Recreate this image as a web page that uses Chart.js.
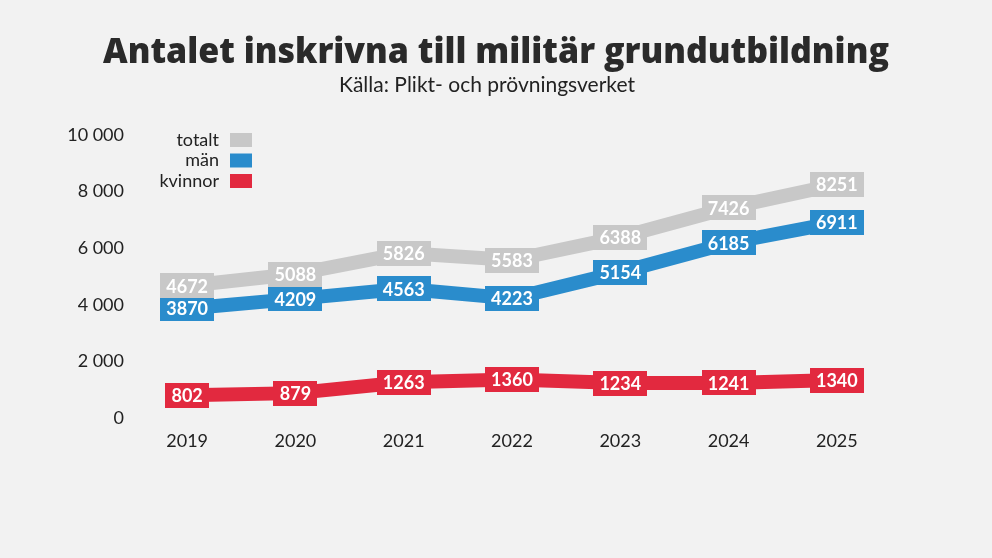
<!DOCTYPE html>
<html>
<head>
<meta charset="utf-8">
<style>
  html, body { margin: 0; padding: 0; background: #f2f2f2; }
  #wrap { width: 992px; height: 558px; }
</style>
<script src="https://cdn.jsdelivr.net/npm/chart.js@4"></script>
</head>
<body>
<div id="wrap"><canvas id="chart" width="992" height="558"></canvas></div>
<script>
// data
const years = ["2019", "2020", "2021", "2022", "2023", "2024", "2025"];
const totalt = [4672, 5088, 5826, 5583, 6388, 7426, 8251];
const man = [3870, 4209, 4563, 4223, 5154, 6185, 6911];
const kvinnor = [802, 879, 1263, 1360, 1234, 1241, 1340];
const seriesNames = ["totalt", "män", "kvinnor"];
const seriesColors = ["#c8c8c8", "#2a8ccc", "#e2293f"];

const titleText = "Antalet inskrivna till militär grundutbildning";
const subtitleText = "Källa: Plikt- och prövningsverket";

const textColor = "#222222";
const bodyFont = "Lato, 'Open Sans', sans-serif";

// title and source line, centred on the page
const headline = {
    id: "headline",
    afterDraw(chart) {
        const ctx = chart.ctx;
        ctx.save();
        ctx.textAlign = "center";
        ctx.textBaseline = "alphabetic";
        ctx.fillStyle = "#2a2a2a";
        ctx.font = "800 36px 'Open Sans', Roboto, sans-serif";
        ctx.fillText(titleText, 496, 63, 786);
        ctx.fillStyle = textColor;
        ctx.font = "21px " + bodyFont;
        ctx.fillText(subtitleText, 487, 92);
        ctx.restore();
    }
};

// boxed value labels on each point
const boxLabels = {
    id: "boxLabels",
    afterDatasetsDraw(chart) {
        const ctx = chart.ctx;
        ctx.save();
        ctx.font = "bold 18px " + bodyFont;
        ctx.textAlign = "center";
        ctx.textBaseline = "middle";
        chart.data.datasets.forEach((ds, i) => {
            const meta = chart.getDatasetMeta(i);
            meta.data.forEach((pt, j) => {
                const txt = String(ds.data[j]);
                const w = txt.length > 3 ? 54 : 44;
                const h = 25;
                ctx.fillStyle = ds.borderColor;
                ctx.fillRect(Math.round(pt.x - w / 2), Math.round(pt.y - h / 2), w, h);
                ctx.fillStyle = "#ffffff";
                ctx.fillText(txt, pt.x, pt.y + 1);
            });
        });
        ctx.restore();
    }
};

// legend in the top left corner
const cornerLegend = {
    id: "cornerLegend",
    afterDraw(chart) {
        const ctx = chart.ctx;
        ctx.save();
        ctx.font = "18px " + bodyFont;
        ctx.textAlign = "right";
        ctx.textBaseline = "middle";
        seriesNames.forEach((name, i) => {
            const y = 140 + i * 20.5;
            ctx.fillStyle = textColor;
            ctx.fillText(name, 219, y);
            ctx.fillStyle = seriesColors[i];
            ctx.fillRect(230, y - 7, 22, 14);
        });
        ctx.restore();
    }
};

const ctx = document.getElementById("chart").getContext("2d");
new Chart(ctx, {
    type: "line",
    data: {
        labels: years,
        datasets: [totalt, man, kvinnor].map((d, i) => ({
            label: seriesNames[i],
            data: d,
            borderColor: seriesColors[i],
            backgroundColor: seriesColors[i],
            borderWidth: 14,
            pointRadius: 0,
            tension: 0,
            borderJoinStyle: "miter"
        })).reverse()
    },
    options: {
        responsive: false,
        animation: false,
        layout: { padding: { left: 0, right: 101, top: 135, bottom: 0 } },
        plugins: {
            legend: { display: false },
            tooltip: { enabled: false },
            title: { display: false }
        },
        scales: {
            x: {
                offset: true,
                grid: { display: false, drawTicks: false },
                border: { display: false },
                ticks: { color: textColor, font: { family: bodyFont, size: 18 }, padding: 12 },
                afterFit(scale) { scale.height = 140; }
            },
            y: {
                min: 0,
                max: 10000,
                grid: { display: false, drawTicks: false },
                border: { display: false },
                ticks: {
                    stepSize: 2000,
                    color: textColor,
                    font: { family: bodyFont, size: 18 },
                    padding: 9,
                    callback: v => String(v).replace(/\B(?=(\d{3})+(?!\d))/g, " ")
                },
                afterFit(scale) { scale.width = 133; }
            }
        }
    },
    plugins: [boxLabels, cornerLegend, headline]
});
</script>
</body>
</html>
